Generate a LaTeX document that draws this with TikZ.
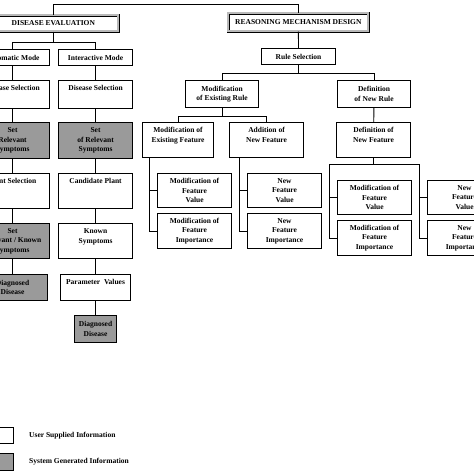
\documentclass[tikz,border=0pt]{standalone}
\usepackage{fontspec}
\setmainfont{Liberation Serif}
\usetikzlibrary{positioning, calc}
\definecolor{SysGray}{HTML}{9A9A9A}
\tikzset{
  ubox/.style={draw, line width=1.1pt, fill=white, align=center, anchor=north west,
    inner xsep=2pt, inner ysep=3pt, font=\fontsize{7.5}{9.5}\selectfont\bfseries},
  sbox/.style={ubox, fill=SysGray},
  tbox/.style={text height=7pt, text depth=#1},
  tbox/.default=15pt,
  tboxii/.style={text height=16.5pt, text depth=#1},
  tboxii/.default=12.5pt,
  title/.style={draw, line width=0.7pt, double=gray!55, double distance=1.8pt,
    fill=white, anchor=north west, inner sep=0pt,
    font=\fontsize{7.5}{9.5}\selectfont\bfseries},
  link/.style={line width=0.9pt},
  lbl/.style={anchor=west, inner sep=0pt, font=\fontsize{7.5}{9.5}\selectfont\bfseries},
}
\begin{document}
\begin{tikzpicture}[x=1pt, y=-1pt]
    \useasboundingbox (0,0) rectangle (474,474);
    \fill[white] (0,0) rectangle (474,474);
    % the two parts
    \node[title, minimum width=130, minimum height=16] (de) at (-12,15) {DISEASE EVALUATION};
    \node[title, minimum width=140, minimum height=18] (rm) at (228,13) {REASONING MECHANISM DESIGN};
    \coordinate (top) at (0,4);
    \draw[link] (de.north) -- (de.north |- top) -| (rm.north);

    % disease evaluation, automatic mode
    \node[ubox, minimum width=74, minimum height=16] (am) at (-25,49) {Automatic Mode};
    \node[ubox, tbox, minimum width=74, minimum height=28] (ds1) at (-25,80) {Disease Selection};
    \node[sbox, minimum width=74, minimum height=36] (srs1) at (-25,122) {Set\\Relevant\\Symptoms};
    \node[ubox, tbox=22pt, minimum width=74, minimum height=34] (ps) at (-25,173) {Plant Selection};
    \node[sbox, minimum width=74, minimum height=35] (srk) at (-25,223) {Set\\Relevant / Known\\Symptoms};
    \node[sbox, minimum width=70, minimum height=26] (dd1) at (-23,274) {Diagnosed\\Disease};

    % disease evaluation, interactive mode
    \node[ubox, minimum width=74, minimum height=16] (im) at (58,49) {Interactive Mode};
    \node[ubox, tbox, minimum width=74, minimum height=28] (ds2) at (58,80) {Disease Selection};
    \node[sbox, minimum width=74, minimum height=36] (srs2) at (58,122) {Set\\of Relevant\\Symptoms};
    \node[ubox, tbox=22pt, minimum width=74, minimum height=34] (cp) at (58,173) {Candidate Plant};
    \node[ubox, tboxii, minimum width=74, minimum height=35] (ks) at (58,223) {Known\\Symptoms};
    \node[ubox, tbox=13pt, minimum width=70, minimum height=26] (pv) at (60,274) {Parameter~~Values};
    \node[sbox, minimum width=42, minimum height=27] (dd2) at (74,315) {Diagnosed\\Disease};

    \draw[link] (de.south) -- ++(0,11) coordinate (deb);
    \draw[link] (am.north) |- (deb) -| (im.north);
    \draw[link] (am) -- (ds1) -- (srs1) -- (ps) -- (srk) -- (dd1);
    \draw[link] (im) -- (ds2) -- (srs2) -- (cp) -- (ks) -- (pv) -- (dd2);

    % reasoning mechanism design
    \node[ubox, minimum width=74, minimum height=16] (rs) at (261,48) {Rule Selection};
    \node[ubox, minimum width=73, minimum height=27] (mer) at (185,80) {Modification\\of Existing Rule};
    \node[ubox, minimum width=73, minimum height=27] (dnr) at (337,80) {Definition\\of New Rule};
    \node[ubox, tboxii, minimum width=71, minimum height=35] (mef) at (142,122) {Modification of\\Existing Feature};
    \node[ubox, tboxii, minimum width=74, minimum height=35] (anf) at (229,122) {Addition of\\New Feature};
    \node[ubox, tboxii, minimum width=74, minimum height=35] (dnf) at (336,122) {Definition of\\New Feature};

    \node[ubox, minimum width=74, minimum height=34] (mfv1) at (157,173) {Modification of\\Feature\\Value};
    \node[ubox, minimum width=74, minimum height=35] (mfi1) at (157,213) {Modification of\\Feature\\Importance};
    \node[ubox, minimum width=74, minimum height=34] (nfv1) at (247,173) {New\\Feature\\Value};
    \node[ubox, minimum width=74, minimum height=35] (nfi1) at (247,213) {New\\Feature\\Importance};

    \node[ubox, minimum width=74, minimum height=34] (mfv2) at (337,180) {Modification of\\Feature\\Value};
    \node[ubox, minimum width=74, minimum height=35] (mfi2) at (337,220) {Modification of\\Feature\\Importance};
    \node[ubox, minimum width=74, minimum height=34] (nfv2) at (427,180) {New\\Feature\\Value};
    \node[ubox, minimum width=74, minimum height=35] (nfi2) at (427,220) {New\\Feature\\Importance};

    \draw[link] (rm) -- (rs);
    \draw[link] (rs.south) -- ++(0,8) coordinate (rsb);
    \draw[link] (mer.north) |- (rsb) -| (dnr.north);
    \draw[link] (mer.south) -- ++(0,8) coordinate (merb);
    \draw[link] (mef.north) |- (merb) -| (anf.north);
    \draw[link] (dnr) -- (dnf);

    \coordinate (mefs) at ([xshift=7pt]mef.south west);
    \draw[link] (mefs) |- (mfi1.west);
    \draw[link] (mefs |- mfv1.west) -- (mfv1.west);
    \coordinate (anfs) at ([xshift=10pt]anf.south west);
    \draw[link] (anfs) |- (nfi1.west);
    \draw[link] (anfs |- nfv1.west) -- (nfv1.west);

    \draw[link] (dnf.south) -- ++(0,7) coordinate (dnfb);
    \coordinate (dl) at (329,164);
    \coordinate (dr) at (419,164);
    \draw[link] (dl) -- (dr);
    \draw[link] (dl) |- (mfi2.west);
    \draw[link] (dl |- mfv2.west) -- (mfv2.west);
    \draw[link] (dr) |- (nfi2.west);
    \draw[link] (dr |- nfv2.west) -- (nfv2.west);

    % legend
    \node[ubox, minimum width=33, minimum height=16] (lwb) at (-20,427) {};
    \node[sbox, minimum width=33, minimum height=17] (lgb) at (-20,453) {};
    \node[lbl] (lwt) at (29,436) {User Supplied Information};
    \node[lbl] (lgt) at (29,462) {System Generated Information};
  \end{tikzpicture}
\end{document}
